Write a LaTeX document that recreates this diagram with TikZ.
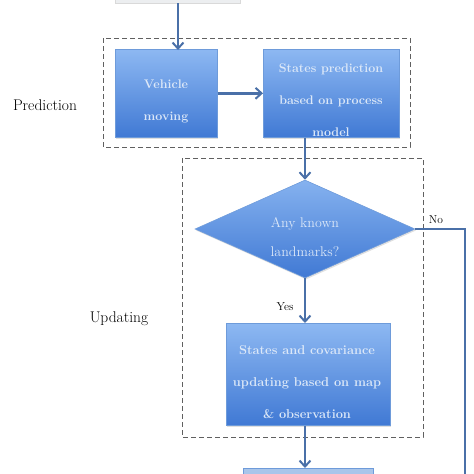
\documentclass[tikz,border=0pt]{standalone}
\usetikzlibrary{arrows.meta,shapes.geometric,shadows}
\definecolor{boxtop}{HTML}{8DB8F2}
\definecolor{boxbot}{HTML}{4079D4}
\definecolor{boxline}{HTML}{6E9BDA}
\definecolor{arrowc}{HTML}{4A70A8}
\definecolor{txtc}{HTML}{DCE8F8}
\definecolor{dashc}{HTML}{606060}
\definecolor{topgray}{HTML}{ECEEF0}
\definecolor{botblue}{HTML}{A9C5EA}
\begin{document}
\begin{tikzpicture}[x=1pt,y=-1pt,
  bluebox/.style={draw=boxline,line width=0.6pt,top color=boxtop,bottom color=boxbot,
    drop shadow={shadow xshift=1pt,shadow yshift=-1.5pt,opacity=0.25},
    inner sep=0pt,anchor=north west},
  btxt/.style={text=txtc,font=\fontsize{12.5}{32}\selectfont\bfseries,align=center,inner sep=0pt},
  dtxt/.style={text=txtc,font=\fontsize{14}{29}\selectfont,align=center,inner sep=0pt},
  lbl/.style={font=\fontsize{15.5}{17}\selectfont,inner sep=0pt},
  small/.style={font=\fontsize{11.5}{13}\selectfont,inner sep=0pt},
  dashbox/.style={draw=dashc,line width=1pt,dash pattern=on 5pt off 3pt},
  flow/.style={draw=arrowc,line width=2.4pt,-{Straight Barb[length=6pt,width=11pt,line width=2pt]}},
  plain/.style={draw=arrowc,line width=2.2pt}]
\useasboundingbox (0,0) rectangle (474,474);
% top and bottom partial boxes
\node[draw=gray!30,fill=topgray,minimum width=125pt,minimum height=14pt,inner sep=0,anchor=south west] (start) at (115,3) {};
\node[draw=boxline,fill=botblue,minimum width=130pt,minimum height=16pt,inner sep=0,anchor=north west] (next) at (243,468) {};
% dashed groups
\draw[dashbox] (103,38) rectangle (410,147);
\draw[dashbox] (182,158) rectangle (423,437);
% boxes
\node[bluebox,minimum width=102pt,minimum height=88pt] (veh) at (115,49) {};
\node[bluebox,minimum width=136pt,minimum height=88pt] (pred) at (263,49) {};
\node[bluebox,minimum width=164pt,minimum height=102pt] (upd) at (226,323) {};
\node[diamond,draw=boxline,line width=0.6pt,top color=boxtop!90!boxbot,bottom color=boxbot,
  minimum width=220pt,minimum height=98pt,inner sep=0pt,
  drop shadow={shadow xshift=1pt,shadow yshift=-1.5pt,opacity=0.25}] (dia) at (305,229) {};
% texts
\node[btxt] (vehT) at (166,101) {Vehicle\\moving};
\node[btxt] (predT) at (331,100) {States prediction\\based on process\\model};
\node[btxt,font=\fontsize{12.8}{32}\selectfont\bfseries] (updT) at (307,382) {States and covariance\\updating based on map\\\& observation};
\node[dtxt] (diaT) at (305,237) {Any known\\landmarks?};
\node[lbl] (predL) at (45,105) {Prediction};
\node[lbl] (updL) at (119,319) {Updating};
\node[small] (noL) at (436,220) {No};
\node[small] (yesL) at (285,307) {Yes};
% connectors
\coordinate (c1) at (178,3);
\coordinate (c1e) at (178,50);
\draw[flow] (c1) -- (c1e);
\draw[flow] (veh.east) -- (pred.west);
\draw[flow] (pred.south -| dia.north) -- (dia.north);
\draw[flow] (dia.south) -- (upd.north -| dia.south);
\draw[flow] (upd.south -| dia.south) -- (next.north -| dia.south);
\coordinate (nc) at (465,229);
\coordinate (ne) at (465,480);
\draw[plain] (dia.east) -- (nc) -- (ne);
\end{tikzpicture}
\end{document}
